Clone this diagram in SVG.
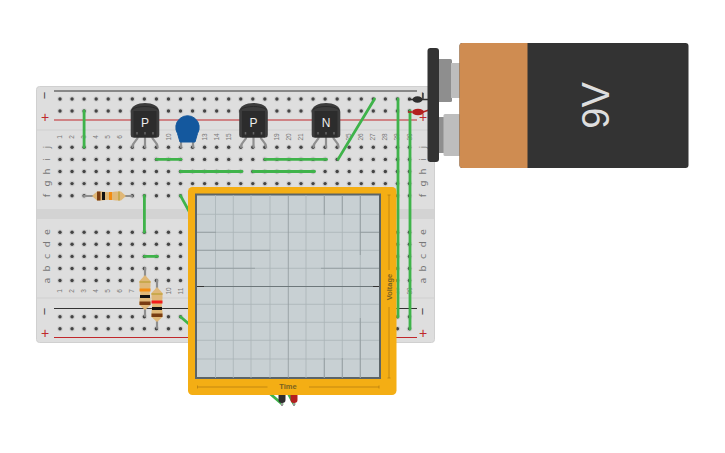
<svg xmlns="http://www.w3.org/2000/svg" xmlns:xlink="http://www.w3.org/1999/xlink" width="725" height="453" viewBox="0 0 725 453">
<style>
.wire{fill:none;stroke:#3fb34a;stroke-width:2.800;stroke-linecap:round}
.lab{font-family:"Liberation Sans",Arial,sans-serif;font-size:6.500px;fill:#777;text-anchor:middle}
.let{font-family:"DejaVu Sans",sans-serif;font-size:9.500px;fill:#777;text-anchor:middle}
.plus{font-family:"Liberation Sans",Arial,sans-serif;font-size:14px;text-anchor:middle;fill:#c0282c}
.minus{font-family:"Liberation Sans",Arial,sans-serif;font-size:13px;text-anchor:middle;fill:#444}
.lead{fill:none;stroke:#8f8f8f;stroke-width:2.200;stroke-linecap:round}
.gl{stroke:#aab4b7;stroke-width:.8}
.gd{stroke:#8f999c;stroke-width:.8}
.tk{stroke:#b07a10;stroke-width:.7}
.scopetxt{font-family:"Liberation Sans",Arial,sans-serif;font-size:7.500px;font-weight:bold;fill:#7a6320;text-anchor:middle}
.tp{font-family:"Liberation Sans",Arial,sans-serif;font-size:12px;fill:#eee;text-anchor:middle}
</style>
<defs>
<g id="h"><circle r="2.800" fill="#cdcdcd"/><circle r="1.700" fill="#444"/></g>
<g id="r5"><use xlink:href="#h" x="0"/><use xlink:href="#h" x="12.05"/><use xlink:href="#h" x="24.1"/><use xlink:href="#h" x="36.15"/><use xlink:href="#h" x="48.2"/></g>
<g id="row"><use xlink:href="#r5" x="60"/><use xlink:href="#r5" x="120.25"/><use xlink:href="#r5" x="180.5"/><use xlink:href="#r5" x="240.75"/><use xlink:href="#r5" x="301"/><use xlink:href="#r5" x="361.25"/></g>
<g id="tr">
<path class="lead" d="M-7 33C-7 38-12.500 38-12.500 44M0 33V44M7 33C7 38 12.500 38 12.500 44"/>
<path d="M-14.300 9C-14.300 -3 14.300 -3 14.300 9V32Q14.300 34.500 12 34.500H-12Q-14.300 34.500-14.300 32Z" fill="#3c3c3c"/>
<rect x="-11.500" y="8" width="23" height="26.500" fill="#2c2c2c"/>
<path d="M-13 6.500C-8 2.500 8 2.500 13 6.500" stroke="#2a2a2a" stroke-width="1" fill="none"/>
<path d="M-8 29v2.500M0 29v2.500M8 29v2.500" stroke="#666" stroke-width="1.500"/>
</g>
</defs>
<g id="breadboard">
<rect x="36.500" y="86.500" width="398" height="256" rx="3" fill="#dedede" stroke="#d0d0d0"/>
<path d="M37 130H434M37 298H434" stroke="#d0d0d0" stroke-width="1"/>
<rect x="37" y="209" width="397" height="10" fill="#d3d3d3"/>
<path d="M54 91H417M54 308.500H417" stroke="#333" stroke-width="1"/>
<path d="M54 120H417M54 337.500H417" stroke="#c0282c" stroke-width="1"/>
<use xlink:href="#row" y="99"/><use xlink:href="#row" y="111"/>
<use xlink:href="#row" y="147.300"/><use xlink:href="#row" y="159.400"/><use xlink:href="#row" y="171.500"/><use xlink:href="#row" y="183.600"/><use xlink:href="#row" y="195.700"/>
<use xlink:href="#row" y="232.200"/><use xlink:href="#row" y="244.300"/><use xlink:href="#row" y="256.400"/><use xlink:href="#row" y="268.500"/><use xlink:href="#row" y="280.500"/>
<use xlink:href="#row" y="316.800"/><use xlink:href="#row" y="328.800"/>
<text class="minus" transform="translate(45,95.500) rotate(-90)" y="4.300">−</text><text class="minus" transform="translate(45,311.500) rotate(-90)" y="4.300">−</text><text class="minus" transform="translate(423,95.500) rotate(-90)" y="4.300">−</text><text class="minus" transform="translate(423,311.500) rotate(-90)" y="4.300">−</text>
<text class="plus" x="45" y="121.500">+</text><text class="plus" x="45" y="337.500">+</text><text class="plus" x="423" y="121.500">+</text><text class="plus" x="423" y="337.500">+</text>
<g class="let">
<text transform="translate(50,147.300) rotate(-90)">j</text><text transform="translate(50,159.400) rotate(-90)">i</text><text transform="translate(50,171.500) rotate(-90)">h</text><text transform="translate(50,183.600) rotate(-90)">g</text><text transform="translate(50,195.700) rotate(-90)">f</text>
<text transform="translate(50,232.200) rotate(-90)">e</text><text transform="translate(50,244.300) rotate(-90)">d</text><text transform="translate(50,256.400) rotate(-90)">c</text><text transform="translate(50,268.500) rotate(-90)">b</text><text transform="translate(50,280.500) rotate(-90)">a</text>
<text transform="translate(426,147.300) rotate(-90)">j</text><text transform="translate(426,159.400) rotate(-90)">i</text><text transform="translate(426,171.500) rotate(-90)">h</text><text transform="translate(426,183.600) rotate(-90)">g</text><text transform="translate(426,195.700) rotate(-90)">f</text>
<text transform="translate(426,232.200) rotate(-90)">e</text><text transform="translate(426,244.300) rotate(-90)">d</text><text transform="translate(426,256.400) rotate(-90)">c</text><text transform="translate(426,268.500) rotate(-90)">b</text><text transform="translate(426,280.500) rotate(-90)">a</text>
</g>
<g class="lab">
<text transform="translate(62,137) rotate(-90)">1</text><text transform="translate(74,137) rotate(-90)">2</text><text transform="translate(86,137) rotate(-90)">3</text><text transform="translate(98.200,137) rotate(-90)">4</text><text transform="translate(110.200,137) rotate(-90)">5</text><text transform="translate(122.300,137) rotate(-90)">6</text><text transform="translate(170.500,137) rotate(-90)">10</text><text transform="translate(206.600,137) rotate(-90)">13</text><text transform="translate(218.700,137) rotate(-90)">14</text><text transform="translate(230.700,137) rotate(-90)">15</text><text transform="translate(278.900,137) rotate(-90)">19</text><text transform="translate(291,137) rotate(-90)">20</text><text transform="translate(303,137) rotate(-90)">21</text><text transform="translate(351.200,137) rotate(-90)">25</text><text transform="translate(363.300,137) rotate(-90)">26</text><text transform="translate(375.300,137) rotate(-90)">27</text><text transform="translate(387.400,137) rotate(-90)">28</text><text transform="translate(399.400,137) rotate(-90)">29</text><text transform="translate(411.500,137) rotate(-90)">30</text>
<text transform="translate(62,291) rotate(-90)">1</text><text transform="translate(74,291) rotate(-90)">2</text><text transform="translate(86,291) rotate(-90)">3</text><text transform="translate(98.200,291) rotate(-90)">4</text><text transform="translate(110.200,291) rotate(-90)">5</text><text transform="translate(122.300,291) rotate(-90)">6</text><text transform="translate(134.300,291) rotate(-90)">7</text><text transform="translate(170.500,291) rotate(-90)">10</text><text transform="translate(182.600,291) rotate(-90)">11</text><text transform="translate(399.400,291) rotate(-90)">29</text><text transform="translate(411.500,291) rotate(-90)">30</text>
</g>
</g>
<g id="connectors">
<path class="wire" d="M84.100 111V147.300"/>
<path class="wire" d="M156.400 159.400H181"/>
<path class="wire" d="M180.500 171.500H242"/>
<path class="wire" d="M253 171.500H314.500"/>
<path class="wire" d="M265 159.400H326.500"/>
<path class="wire" d="M338 159.400L374.500 99"/>
<path class="wire" d="M398 99V317"/>
<path class="wire" d="M410 111V329"/>
<path class="wire" d="M144.400 195.700V232.200"/>
<path class="wire" d="M144.400 256.400H157.500"/>
<path class="wire" d="M180.500 195.700L294 404"/>
<path class="wire" d="M180.500 316.800L282 404"/>
</g>
<g id="transistor-1" transform="translate(145,103)"><use xlink:href="#tr"/><text class="tp" y="24">P</text></g>
<g id="transistor-2" transform="translate(253.500,103)"><use xlink:href="#tr"/><text class="tp" y="24">P</text></g>
<g id="transistor-3" transform="translate(326,103)"><use xlink:href="#tr"/><text class="tp" y="24">N</text></g>
<g id="capacitor">
<path class="lead" d="M181 138V147M193 138V147"/>
<path d="M180 142L177.500 133.500A11.700 11.700 0 1 1 197.500 133.500L195 142Z" fill="#14589e" stroke="#14589e" stroke-linejoin="round"/>
</g>
<g id="resistor-1">
<path class="lead" d="M84 196H132" stroke-width="1.500"/>
<path d="M92 196L97 191.500H102Q109 193 116 191.500H121L126 196L121 200.500H116Q109 199 102 200.500H97Z" fill="#e0b878"/>
<rect x="97" y="191.500" width="3.500" height="9" fill="#7a3d12"/><rect x="102" y="192" width="3" height="8" fill="#111"/><rect x="109" y="192" width="3" height="8" fill="#f28c12"/><rect x="118" y="191.500" width="2" height="9" fill="#c9a94e"/>
</g>
<g id="resistor-2">
<path class="lead" d="M145 268V316"/>
<path d="M145 275L150.500 281V286Q149 293 150.500 300V305L145 310L139.500 305V300Q141 293 139.500 286V281Z" fill="#e0b878"/>
<rect x="139.500" y="281" width="11" height="2" fill="#c9a94e"/><rect x="139.500" y="288.500" width="11" height="3" fill="#f28c12"/><rect x="140" y="295" width="10" height="3" fill="#111"/><rect x="139.500" y="301.500" width="11" height="3.500" fill="#7a3d12"/>
</g>
<g id="resistor-3">
<path class="lead" d="M157 280V328"/>
<path d="M157 287L162.500 293V298Q161 305 162.500 312V317L157 322L151.500 317V312Q153 305 151.500 298V293Z" fill="#e0b878"/>
<rect x="151.500" y="293" width="11" height="2" fill="#c9a94e"/><rect x="151.500" y="300.500" width="11" height="3" fill="#f01c1c"/><rect x="152" y="307" width="10" height="3" fill="#111"/><rect x="151.500" y="313.500" width="11" height="3.500" fill="#7a3d12"/>
</g>
<g id="oscilloscope">
<path d="M282 400V406M294 400V406" stroke="#999" stroke-width="2"/>
<path d="M278.500 393H285.500V400Q285.500 403 282 403Q278.500 403 278.500 400Z" fill="#2e2e2e"/>
<path d="M290.500 393H297.500V400Q297.500 403 294 403Q290.500 403 290.500 400Z" fill="#b3201f"/>
<rect x="188" y="187" width="208.500" height="208" rx="4.500" fill="#f4ae14"/>
<rect x="196" y="194.500" width="184" height="183.500" fill="#c8d0d3" stroke="#5b6468" stroke-width="2"/>
<path class="gl" d="M215.500 195V378M233.300 195V378M251 195V378M270 195V378M306 195V378M324.300 195V378M342.300 195V378M360.300 195V378"/>
<path class="gl" d="M197 214.300H379M197 232.300H379M197 250.300H379M197 268.300H379M197 304.300H379M197 322.300H379M197 340.300H379M197 359H379"/>
<path class="gd" d="M288.300 195V378M197 232.300H216M197 250.300H270M197 268.300H255M321 268.300H379M360 232.300H379M324.300 195V215M324.300 358V378M342.300 195V215M342.300 358V378M360.300 195V255M360.300 318V378"/>
<path d="M197 286.500H379" stroke="#6d777a" stroke-width="1"/>
<path d="M197 286.500H204M373 286.500H379" stroke="#333" stroke-width="1"/>
<path class="tk" d="M197.500 387H267.500M309 387H379M197.500 385.500V388.500M379 385.500V388.500M389 195V270M389 307V378M387.500 195H390.500M387.500 378H390.500"/>
<text class="scopetxt" x="288" y="389">Time</text>
<text class="scopetxt" transform="translate(391.500,287) rotate(-90)">Voltage</text>
</g>
<g id="battery">
<path d="M408 99.500H429M423 99V93" stroke="#333" stroke-width="1.300" fill="none"/>
<ellipse cx="417.500" cy="99.500" rx="5" ry="3.200" fill="#2e2e2e"/>
<path d="M408 112H412" stroke="#b3201f" stroke-width="1.500"/>
<ellipse cx="418" cy="112" rx="6" ry="3.200" fill="#b3201f"/>
<path d="M423 112L429 110" stroke="#b3201f" stroke-width="1.500"/>
<rect x="437" y="59" width="15" height="43" rx="1.500" fill="#8e8e8e"/>
<rect x="451" y="63" width="9" height="35" fill="#bdbdbd"/>
<rect x="437" y="117" width="8" height="36" fill="#8e8e8e"/>
<rect x="443.500" y="114" width="17" height="42" rx="1.500" fill="#bdbdbd"/>
<rect x="427.500" y="48" width="11.500" height="114" rx="3" fill="#333"/>
<rect x="459.500" y="43" width="229" height="125" rx="3" fill="#333"/>
<path d="M527.500 43H462.500Q459.500 43 459.500 46V165Q459.500 168 462.500 168H527.500Z" fill="#cf8c51"/>
<text transform="translate(608.500,105.500) rotate(-90)" font-family="'Liberation Sans',sans-serif" font-size="38" fill="#dedede" text-anchor="middle">9V</text>
</g>
</svg>
